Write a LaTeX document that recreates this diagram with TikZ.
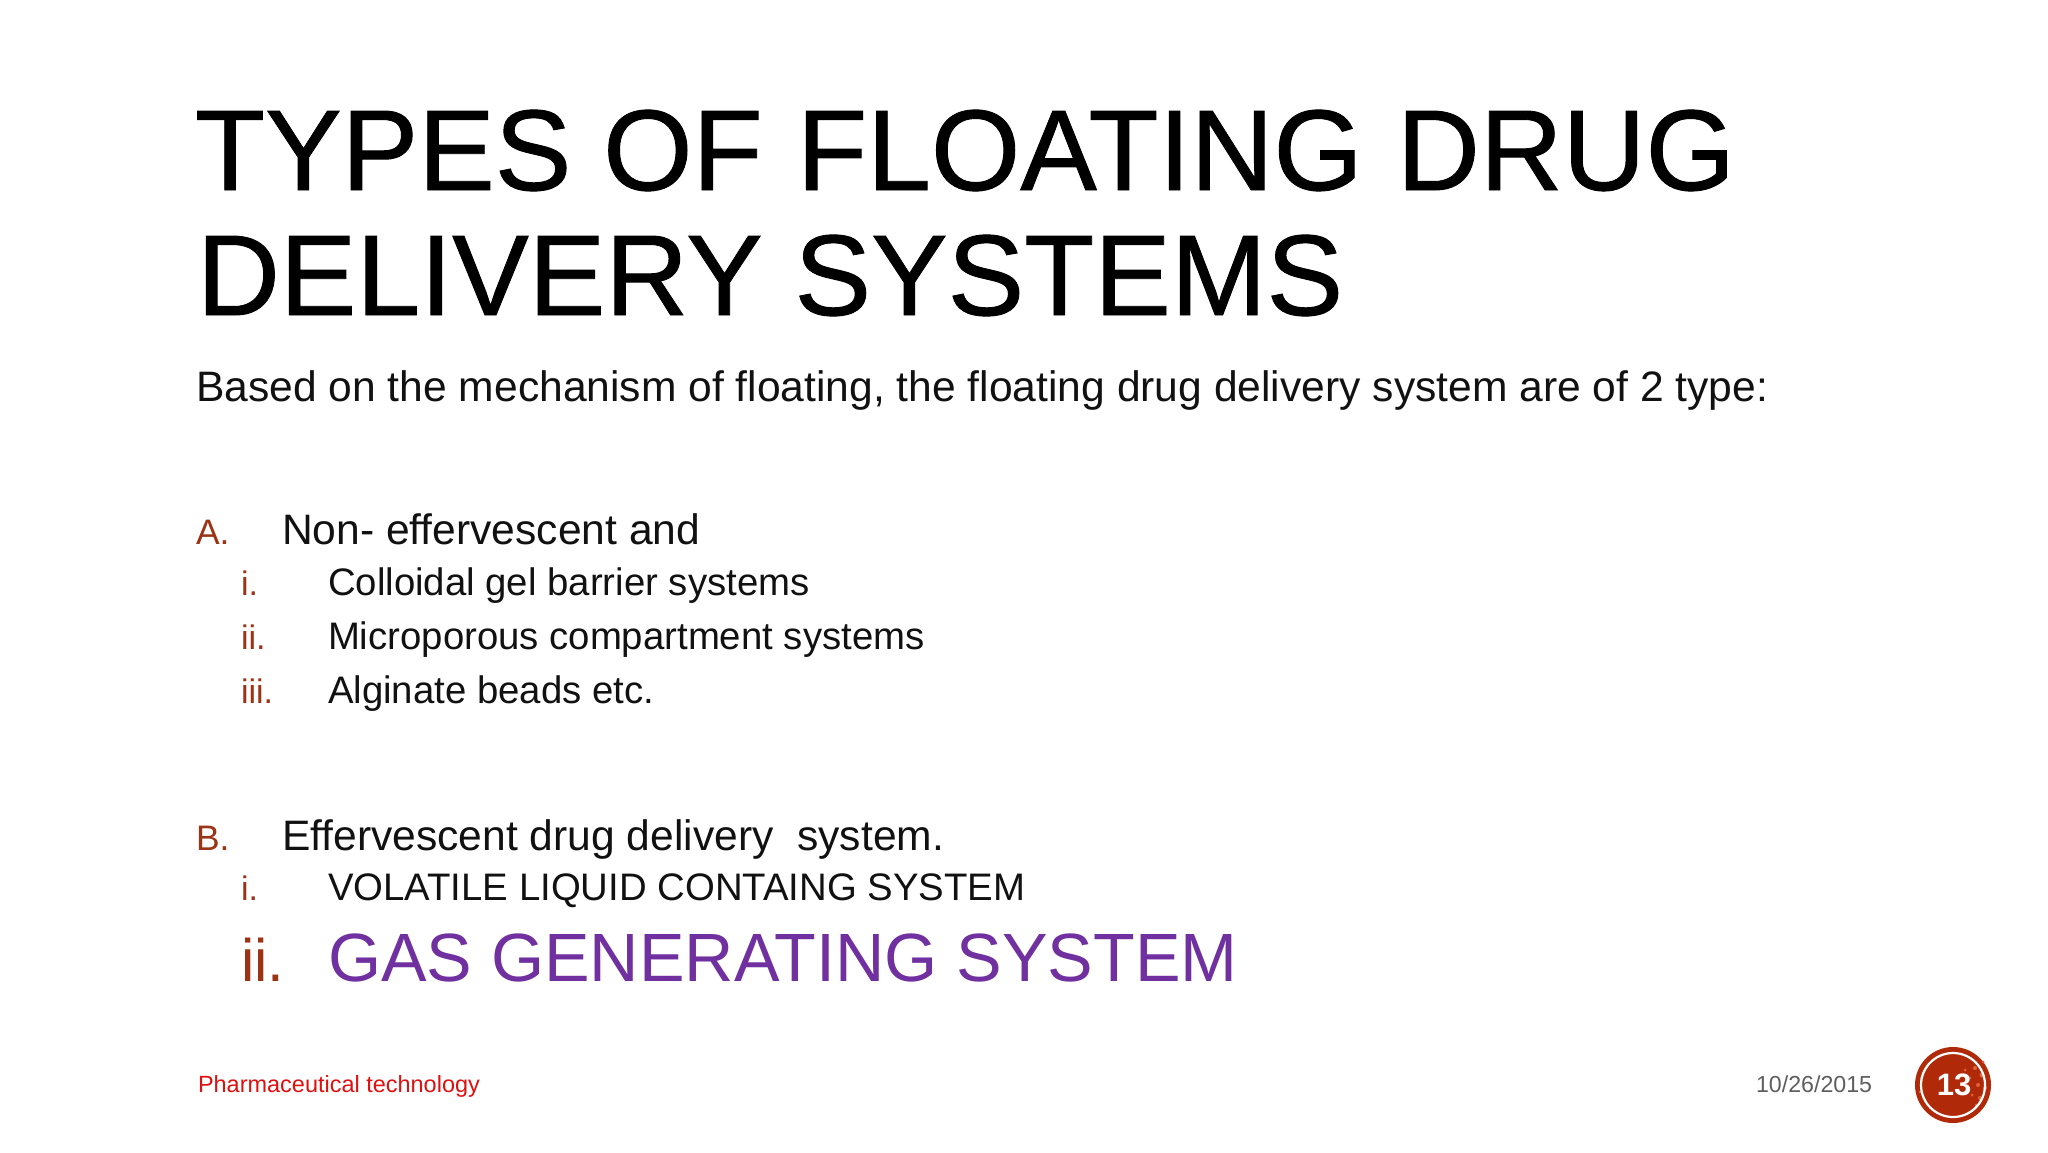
\documentclass[tikz,border=0pt]{standalone}
\usepackage{fontspec}
\setmainfont{Liberation Sans}
\newfontfamily\headfont{Liberation Sans}[FakeBold=0.8]
\definecolor{rust}{HTML}{9B3315}
\definecolor{badge}{HTML}{B02A0A}
\definecolor{speck}{HTML}{E0623C}
\definecolor{violet}{HTML}{7030A0}
\definecolor{dategrey}{HTML}{5F5F5F}
\definecolor{footred}{HTML}{E01010}
\definecolor{ink}{HTML}{111111}
\tikzset{
  txt/.style={anchor=base west,inner sep=0pt,outer sep=0pt,text=ink},
  title/.style={txt,font=\headfont\fontsize{57.4}{57.4}\selectfont,text=black},
  lead/.style={txt,font=\fontsize{21.3}{21.3}\selectfont},
  lvla/.style={txt,font=\fontsize{21.3}{21.3}\selectfont},
  lvlb/.style={txt,font=\fontsize{19.17}{19.17}\selectfont},
  bulleta/.style={txt,text=rust,font=\fontsize{17.7}{17.7}\selectfont},
  bulletb/.style={txt,text=rust,font=\fontsize{17}{17}\selectfont}
}
\begin{document}
\begin{tikzpicture}[x=0.5pt,y=-0.5pt]
\useasboundingbox (0,0) rectangle (2048,1152);
\fill[white] (0,0) rectangle (2048,1152);
\node[title] (t1) at (195,190) {TYPES OF\hspace{1.2pt} FLOATING\hspace{1.2pt} DRUG};
\node[title] (t2) at (197,315) {DELIVERY SYSTEMS};
\node[lead] (lead) at (196,401) {Based on the mechanism of floating, the floating drug delivery system are of 2 type:};
\node[bulleta] (ma) at (196,544.5) {A.};
\node[lvla] (ta) at (282,544.5) {Non- effervescent and};
\node[bulletb] (m1) at (241,595.5) {i.};
\node[lvlb] (t1a) at (328,595.5) {Colloidal gel barrier systems};
\node[bulletb] (m2) at (241,649.5) {ii.};
\node[lvlb] (t2a) at (328,649.5) {Microporous compartment systems};
\node[bulletb] (m3) at (241,703.5) {iii.};
\node[lvlb] (t3a) at (328,703.5) {Alginate beads etc.};
\node[bulleta] (mb) at (196,850.5) {B.};
\node[lvla] (tb) at (282,850.5) {Effervescent drug delivery\ \ system.};
\node[bulletb] (m4) at (241,900.5) {i.};
\node[lvlb] (t1b) at (328,900.5) {VOLATILE LIQUID CONTAING SYSTEM};
\node[txt,text=rust,font=\fontsize{30}{30}\selectfont] (m5) at (241,981) {ii.};
\node[txt,text=violet,font=\fontsize{34.15}{34.15}\selectfont] (t2b) at (328,981) {GAS GENERATING SYSTEM};
\node[txt,text=footred,font=\fontsize{11.74}{11.74}\selectfont] (foot) at (198,1092.5) {Pharmaceutical technology};
\node[txt,text=dategrey,font=\fontsize{11.6}{11.6}\selectfont] (date) at (1756,1092.5) {10/26/2015};
\fill[badge] (1953,1085) circle (38);
\foreach \a/\b/\r in {1975/1068/2,1982/1075/2.5,1970/1078/1.5,1978/1085/2,1985/1088/2,1972/1095/1.5,1980/1098/2,1965/1070/1.5,1983/1062/1.5,1976/1105/1.5,1921/1078/1.5,1920/1092/1.5,1925/1100/1}
  \fill[speck] (\a,\b) circle (\r);
\draw[white,line width=1.1pt] (1953,1085) circle (32);
\node[anchor=center,inner sep=0pt,text=white,font=\fontsize{15.5}{15.5}\selectfont\bfseries] (num) at (1954,1085) {13};
\end{tikzpicture}
\end{document}
